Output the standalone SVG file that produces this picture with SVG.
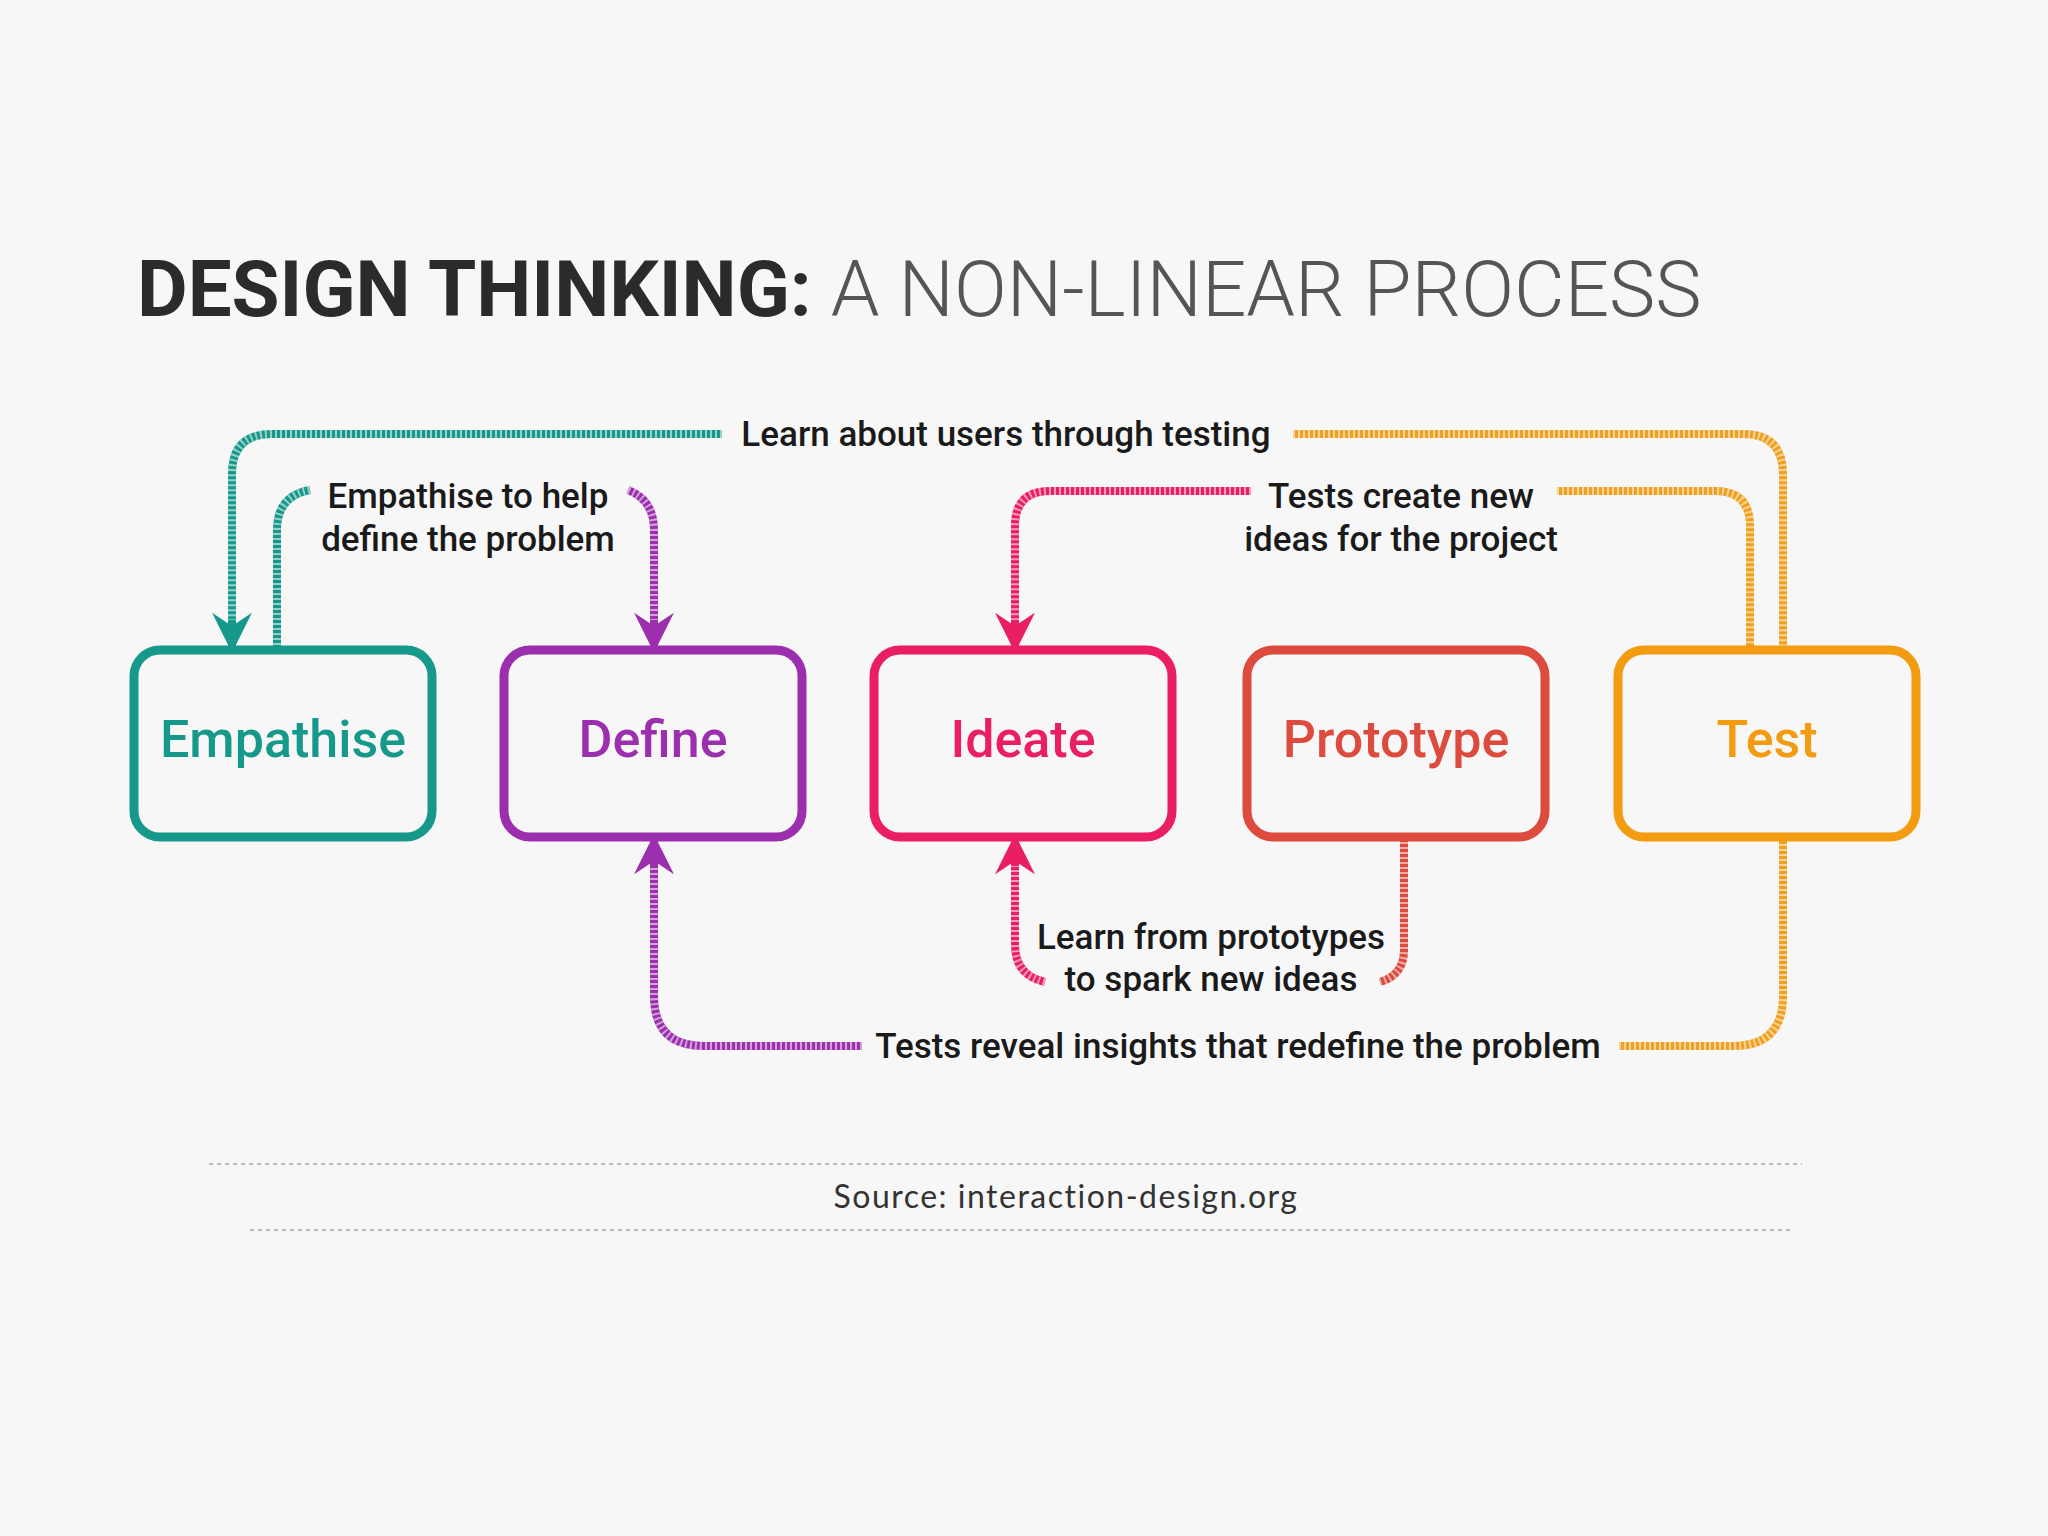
<svg xmlns="http://www.w3.org/2000/svg" width="2048" height="1536" viewBox="0 0 2048 1536">
<style>
.box{fill:none;stroke-width:9}
.lbl{font-family:Roboto,"Liberation Sans",sans-serif;font-weight:500;font-size:52px;text-anchor:middle}
.t{font-family:Roboto,"Liberation Sans",sans-serif;font-weight:500;font-size:35px;fill:#1a1a1a;text-anchor:middle}
.c{fill:none;stroke-width:8}
.s{fill:none;stroke:#ffffff;stroke-width:8;stroke-dasharray:2 3;opacity:0.55}
</style>
<defs>
<marker id="aT" viewBox="0 0 12 12" refX="10" refY="6" markerWidth="5" markerHeight="5" orient="auto" markerUnits="strokeWidth"><path d="M0,0 L12,6 L0,12 L4,6 z" fill="#16998a"/></marker>
<marker id="aP" viewBox="0 0 12 12" refX="10" refY="6" markerWidth="5" markerHeight="5" orient="auto" markerUnits="strokeWidth"><path d="M0,0 L12,6 L0,12 L4,6 z" fill="#9b2fae"/></marker>
<marker id="aK" viewBox="0 0 12 12" refX="10" refY="6" markerWidth="5" markerHeight="5" orient="auto" markerUnits="strokeWidth"><path d="M0,0 L12,6 L0,12 L4,6 z" fill="#e91e63"/></marker>
</defs>
<rect width="2048" height="1536" fill="#f7f7f7"/>
<text x="137" y="316" font-family="Roboto,'Liberation Sans',sans-serif" font-size="78" fill="#2b2b2b"><tspan font-weight="700">DESIGN THINKING:</tspan><tspan font-weight="300" fill="#555"> A NON-LINEAR PROCESS</tspan></text>

<g id="connectors">
<path class="c" stroke="#16998a" d="M722,434 H272 Q232,434 232,474 V646" marker-end="url(#aT)"/>
<path class="s" d="M722,434 H272 Q232,434 232,474 V620"/>
<path class="c" stroke="#f0a020" d="M1293,434 H1743 Q1783,434 1783,474 V650"/>
<path class="s" d="M1293,434 H1743 Q1783,434 1783,474 V650"/>
<path class="c" stroke="#16998a" d="M277,650 V530 Q277,496 310,490"/>
<path class="s" d="M277,650 V530 Q277,496 310,490"/>
<path class="c" stroke="#9b2fae" d="M628,490 Q654,500 654,530 V646" marker-end="url(#aP)"/>
<path class="s" d="M628,490 Q654,500 654,530 V620"/>
<path class="c" stroke="#e91e63" d="M1251,491 H1050 Q1015,491 1015,526 V646" marker-end="url(#aK)"/>
<path class="s" d="M1251,491 H1050 Q1015,491 1015,526 V620"/>
<path class="c" stroke="#f0a020" d="M1557,491 H1715 Q1750,491 1750,526 V650"/>
<path class="s" d="M1557,491 H1715 Q1750,491 1750,526 V650"/>
<path class="c" stroke="#dd4b3e" d="M1404,837 V950 Q1404,975 1380,982"/>
<path class="s" d="M1404,837 V950 Q1404,975 1380,982"/>
<path class="c" stroke="#e91e63" d="M1045,982 Q1015,975 1015,945 V841" marker-end="url(#aK)"/>
<path class="s" d="M1045,982 Q1015,975 1015,945 V866"/>
<path class="c" stroke="#9b2fae" d="M862,1046 H704 Q654,1046 654,996 V841" marker-end="url(#aP)"/>
<path class="s" d="M862,1046 H704 Q654,1046 654,996 V866"/>
<path class="c" stroke="#f0a020" d="M1619,1046 H1733 Q1783,1046 1783,996 V837"/>
<path class="s" d="M1619,1046 H1733 Q1783,1046 1783,996 V837"/>
</g>

<g id="labels">
<text class="t" x="1006" y="446">Learn about users through testing</text>
<text class="t" x="468" y="508">Empathise to help</text>
<text class="t" x="468" y="551">define the problem</text>
<text class="t" x="1401" y="508">Tests create new</text>
<text class="t" x="1401" y="551">ideas for the project</text>
<text class="t" x="1211" y="949">Learn from prototypes</text>
<text class="t" x="1211" y="991">to spark new ideas</text>
<text class="t" x="1238" y="1058">Tests reveal insights that redefine the problem</text>
</g>

<g id="empathise"><rect class="box" x="134" y="650" width="298" height="187" rx="26" stroke="#16998a"/><text class="lbl" x="283" y="757" fill="#16998a">Empathise</text></g>
<g id="define"><rect class="box" x="504" y="650" width="298" height="187" rx="26" stroke="#9b2fae"/><text class="lbl" x="653" y="757" fill="#9b2fae">Define</text></g>
<g id="ideate"><rect class="box" x="874" y="650" width="298" height="187" rx="26" stroke="#e91e63"/><text class="lbl" x="1023" y="757" fill="#e91e63">Ideate</text></g>
<g id="prototype"><rect class="box" x="1247" y="650" width="298" height="187" rx="26" stroke="#dd4b3e"/><text class="lbl" x="1396" y="757" fill="#dd4b3e">Prototype</text></g>
<g id="test"><rect class="box" x="1618" y="650" width="298" height="187" rx="26" stroke="#f39c12"/><text class="lbl" x="1767" y="757" fill="#f39c12">Test</text></g>

<g id="source">
<line x1="209" y1="1164" x2="1802" y2="1164" stroke="#bbb" stroke-width="2" stroke-dasharray="4 4"/>
<line x1="250" y1="1230" x2="1790" y2="1230" stroke="#bbb" stroke-width="2" stroke-dasharray="4 4"/>
<text x="1066" y="1208" font-family="Lato,'Liberation Sans',sans-serif" font-size="32" fill="#333" text-anchor="middle" letter-spacing="1.5">Source: interaction-design.org</text>
</g>
</svg>
